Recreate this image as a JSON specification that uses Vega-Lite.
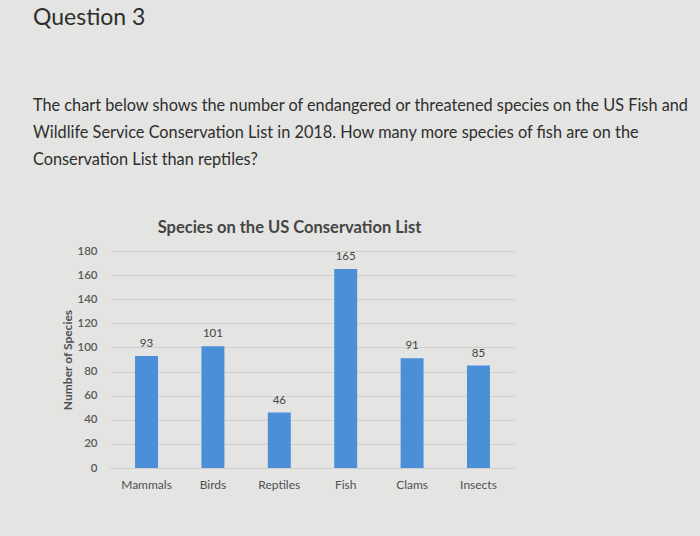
{
  "$schema": "https://vega.github.io/schema/vega-lite/v6.json",
  "width": 405,
  "height": 217,
  "autosize": "none",
  "padding": {"left": 110, "top": 251, "right": 185, "bottom": 68},
  "background": "#e4e4e2",
  "title": {
    "text": "Question 3",
    "subtitle": [
      "The chart below shows the number of endangered or threatened species on the US Fish and",
      "Wildlife Service Conservation List in 2018. How many more species of fish are on the",
      "Conservation List than reptiles?"
    ],
    "anchor": "start",
    "frame": "group",
    "dx": -77,
    "font": "Lato",
    "fontSize": 23,
    "fontWeight": "normal",
    "color": "#2e2e2e",
    "subtitleFont": "Lato",
    "subtitleFontSize": 16.3,
    "subtitleColor": "#2e2e2e",
    "subtitleLineHeight": 27,
    "subtitlePadding": 68,
    "offset": 51
  },
  "config": {"view": {"stroke": null}},
  "data": {
    "values": [
      {"category": "Mammals", "species": 93},
      {"category": "Birds", "species": 101},
      {"category": "Reptiles", "species": 46},
      {"category": "Fish", "species": 165},
      {"category": "Clams", "species": 91},
      {"category": "Insects", "species": 85}
    ]
  },
  "layer": [
    {
      "mark": {"type": "bar", "color": "#4a8fd8"},
      "encoding": {
        "x": {
          "field": "category",
          "type": "nominal",
          "sort": null,
          "scale": {"paddingInner": 0.654, "paddingOuter": 0.377},
          "axis": {
            "title": null,
            "labelAngle": 0,
            "labelFont": "Lato",
            "labelFontSize": 12,
            "labelColor": "#505050",
            "labelPadding": 11,
            "ticks": false,
            "domainColor": "#cfcfcf"
          }
        },
        "y": {
          "field": "species",
          "type": "quantitative",
          "scale": {"domain": [0, 180]},
          "axis": {
            "title": "Number of Species",
            "titleFont": "Lato",
            "titleFontSize": 12,
            "titleFontWeight": "bold",
            "titleColor": "#505050",
            "titlePadding": 2,
            "labelFont": "Lato",
            "labelFontSize": 11.5,
            "labelFontWeight": 600,
            "labelColor": "#595959",
            "labelPadding": 13,
            "ticks": false,
            "domain": false,
            "gridColor": "#cfcfcf",
            "values": [0, 20, 40, 60, 80, 100, 120, 140, 160, 180]
          }
        }
      }
    },
    {
      "mark": {"type": "text", "baseline": "bottom", "dy": -7, "font": "Lato", "fontSize": 11.5, "color": "#444444"},
      "encoding": {
        "x": {
          "field": "category",
          "type": "nominal",
          "sort": null,
          "axis": {
            "orient": "top",
            "title": "Species on the US Conservation List",
            "titleFont": "Lato",
            "titleFontSize": 16.5,
            "titleFontWeight": "bold",
            "titleColor": "#454545",
            "titlePadding": 16,
            "titleX": 179,
            "titleAlign": "center",
            "labels": false,
            "ticks": false,
            "domain": false,
            "grid": false
          }
        },
        "y": {"field": "species", "type": "quantitative", "axis": null},
        "text": {"field": "species", "type": "quantitative"}
      }
    }
  ],
  "resolve": {"axis": {"x": "independent", "y": "independent"}}
}
